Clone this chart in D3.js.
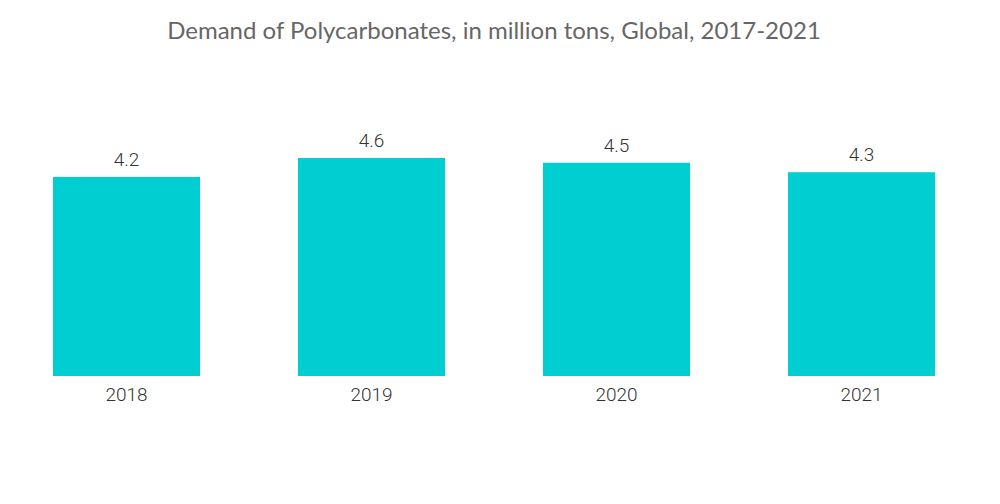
<!DOCTYPE html>
<html><head><meta charset="utf-8">
<script src="https://cdn.jsdelivr.net/npm/d3@7"></script>
<style>body{margin:0;background:#fff;} svg{display:block;}</style>
</head><body>
<svg id="chart" width="1000" height="504"></svg>
<script>
const categories = ["2018", "2019", "2020", "2021"];
const values = [4.2, 4.6, 4.5, 4.3];
const labels = ["4.2", "4.6", "4.5", "4.3"];
const title = "Demand of Polycarbonates, in million tons, Global, 2017-2021";

const svg = d3.select("#chart");
const x = d3.scaleBand().domain(categories).range([4, 984]).paddingInner(0.4).paddingOuter(0.2);
const y = d3.scaleLinear().domain([0, 4.6]).range([376, 158]);

svg.append("text").attr("x", 494).attr("y", 39).attr("text-anchor", "middle")
  .attr("font-family", "Lato, sans-serif").attr("font-size", 24).attr("fill", "#666")
  .text(title);

svg.selectAll("rect.bar").data(values).join("rect").attr("class", "bar")
  .attr("x", (d, i) => x(categories[i])).attr("width", x.bandwidth())
  .attr("y", d => y(d)).attr("height", d => y(0) - y(d)).attr("fill", "#00CED1");

svg.selectAll("text.val").data(values).join("text").attr("class", "val")
  .attr("x", (d, i) => x(categories[i]) + x.bandwidth() / 2).attr("y", d => y(d) - 11)
  .attr("text-anchor", "middle").attr("font-family", "Roboto, sans-serif").attr("font-size", 19)
  .attr("font-weight", 300).attr("fill", "#333").text((d, i) => labels[i]);

const ax = svg.append("g").attr("transform", "translate(0,376)").call(d3.axisBottom(x).tickSize(0).tickPadding(12));
ax.select(".domain").remove();
ax.selectAll("text").attr("font-family", "Roboto, sans-serif").attr("font-size", 19)
  .attr("font-weight", 300).attr("fill", "#333");
</script>
</body></html>
